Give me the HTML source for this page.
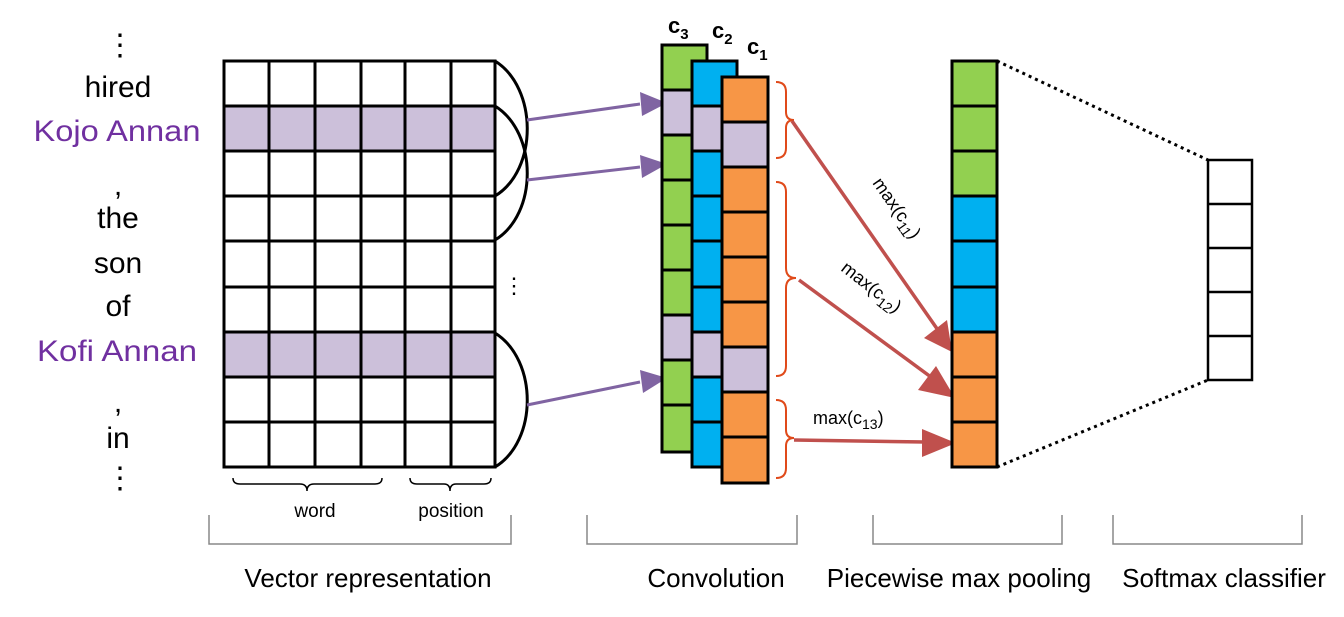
<!DOCTYPE html>
<html><head><meta charset="utf-8"><style>
body{margin:0;background:#fff;}
svg{display:block;font-family:"Liberation Sans",Arial,sans-serif;}
</style></head><body>
<svg width="1344" height="617" viewBox="0 0 1344 617" xmlns="http://www.w3.org/2000/svg">
<g font-size="30" text-anchor="middle" fill="#000">
<text x="120" y="55">⋮</text>
<text x="118" y="97">hired</text>
<text x="117" y="141" fill="#7030a0" textLength="167" lengthAdjust="spacingAndGlyphs">Kojo Annan</text>
<text x="118" y="195">,</text>
<text x="118" y="228">the</text>
<text x="118" y="273">son</text>
<text x="118" y="316">of</text>
<text x="117" y="361" fill="#7030a0" textLength="160" lengthAdjust="spacingAndGlyphs">Kofi Annan</text>
<text x="118" y="412">,</text>
<text x="118" y="448">in</text>
<text x="120" y="488">⋮</text>
</g>
<rect x="224" y="106" width="271" height="45" fill="#ccc0da"/>
<rect x="224" y="332" width="271" height="45" fill="#ccc0da"/>
<g stroke="#000" stroke-width="3" fill="none">
<rect x="224" y="61" width="271" height="406"/>
<path d="M269 61V467M315 61V467M361 61V467M405 61V467M451 61V467"/>
<path d="M224 106H495M224 151H495M224 196H495M224 241H495M224 287H495M224 332H495M224 377H495M224 422H495"/>
<path d="M495 61 C538 88 538 170 495 196"/>
<path d="M495 106 C538 133 538 214 495 240"/>
<path d="M495 333 C538 360 538 441 495 467"/>
</g>
<text x="514" y="293" font-size="22" text-anchor="middle">⋮</text>
<g stroke="#8064a2" stroke-width="3">
<line x1="527" y1="120" x2="640" y2="104"/>
<line x1="527" y1="180" x2="640" y2="167"/>
<line x1="527" y1="405" x2="640" y2="382"/>
</g>
<g fill="#8064a2">
<path d="M640 92 L667 103 L642 116z"/>
<path d="M640 155 L667 164 L642 178z"/>
<path d="M640 370 L667 378 L643 393z"/>
</g>
<g stroke="#000" stroke-width="3">
<g>
<rect x="662" y="45" width="45" height="407" fill="#92d050"/>
<rect x="662" y="90" width="45" height="45" fill="#ccc0da"/>
<rect x="662" y="315" width="45" height="45" fill="#ccc0da"/>
<path d="M662 135H707M662 180H707M662 225H707M662 270H707M662 405H707" fill="none"/>
</g>
<g>
<rect x="692" y="61" width="45" height="406" fill="#00b0f0"/>
<rect x="692" y="106" width="45" height="45" fill="#ccc0da"/>
<rect x="692" y="332" width="45" height="45" fill="#ccc0da"/>
<path d="M692 196H737M692 241H737M692 287H737M692 422H737" fill="none"/>
</g>
<g>
<rect x="722" y="77" width="46" height="406" fill="#f79646"/>
<rect x="722" y="122" width="46" height="45" fill="#ccc0da"/>
<rect x="722" y="347" width="46" height="45" fill="#ccc0da"/>
<path d="M722 212H768M722 257H768M722 302H768M722 437H768" fill="none"/>
</g>
</g>
<g font-size="22" font-weight="bold">
<text x="668" y="33">c<tspan font-size="15" dy="6">3</tspan></text>
<text x="712" y="38">c<tspan font-size="15" dy="6">2</tspan></text>
<text x="747" y="54">c<tspan font-size="15" dy="6">1</tspan></text>
</g>
<g stroke="#e04a1a" stroke-width="2" fill="none">
<path d="M776 82 Q786 82 786 92 L786 112 Q786 120 794 120 Q786 120 786 128 L786 148 Q786 158 776 158"/>
<path d="M776 182 Q786 182 786 192 L786 268 Q786 278 796 278 Q786 278 786 288 L786 366 Q786 376 776 376"/>
<path d="M776 400 Q786 400 786 410 L786 430 Q786 438 794 438 Q786 438 786 446 L786 468 Q786 478 776 478"/>
</g>
<g stroke="#c0504d" stroke-width="3.5">
<line x1="792" y1="121" x2="940" y2="333"/>
<line x1="799" y1="280" x2="935" y2="380"/>
<line x1="794" y1="440" x2="925" y2="442"/>
</g>
<g fill="#c0504d">
<path d="M924 338 L952 352 L947 320z"/>
<path d="M918 390 L955 398 L936 366z"/>
<path d="M922 429 L956 443 L922 457z"/>
</g>
<g font-size="18" fill="#000">
<text transform="translate(872,183) rotate(55)">max(c<tspan font-size="14" dy="5">11</tspan><tspan dy="-5">)</tspan></text>
<text transform="translate(840,270) rotate(38)">max(c<tspan font-size="14" dy="5">12</tspan><tspan dy="-5">)</tspan></text>
<text x="813" y="424">max(c<tspan font-size="14" dy="5">13</tspan><tspan dy="-5">)</tspan></text>
</g>
<g stroke="#000" stroke-width="3">
<rect x="952" y="61" width="45" height="135" fill="#92d050"/>
<rect x="952" y="196" width="45" height="136" fill="#00b0f0"/>
<rect x="952" y="332" width="45" height="135" fill="#f79646"/>
<path d="M952 106H997M952 151H997M952 241H997M952 287H997M952 377H997M952 422H997" fill="none"/>
</g>
<g stroke="#000" stroke-width="3" stroke-dasharray="3,4">
<line x1="997" y1="61" x2="1208" y2="160"/>
<line x1="997" y1="467" x2="1208" y2="380"/>
</g>
<g stroke="#000" stroke-width="2.5" fill="#fff">
<rect x="1208" y="160" width="44" height="220"/>
<path d="M1208 204H1252M1208 248H1252M1208 292H1252M1208 336H1252" fill="none"/>
</g>
<g stroke="#000" stroke-width="1.5" fill="none">
<path d="M233 478 Q233 484 240 484 L300 484 Q307 484 307 491 Q307 484 314 484 L375 484 Q382 484 382 478"/>
<path d="M410 478 Q410 484 417 484 L444 484 Q450 484 450 491 Q450 484 456 484 L484 484 Q491 484 491 478"/>
</g>
<g font-size="19" text-anchor="middle">
<text x="315" y="517">word</text>
<text x="451" y="517">position</text>
</g>
<g stroke="#888" stroke-width="1.5" fill="none">
<path d="M209 515V544H511V515"/>
<path d="M587 515V544H797V515"/>
<path d="M873 515V544H1062V515"/>
<path d="M1113 515V544H1302V515"/>
</g>
<g font-size="26" text-anchor="middle">
<text x="368" y="587">Vector representation</text>
<text x="716" y="587">Convolution</text>
<text x="959" y="587">Piecewise max pooling</text>
<text x="1224" y="587">Softmax classifier</text>
</g>
</svg>
</body></html>
